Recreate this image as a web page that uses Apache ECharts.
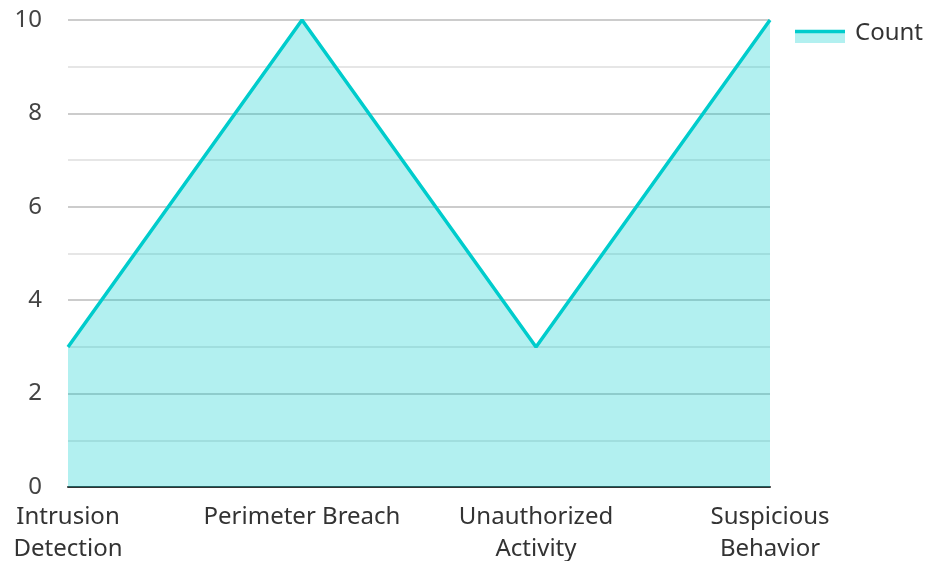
<!DOCTYPE html>
<html><head><meta charset="utf-8">
<script src="https://cdn.jsdelivr.net/npm/echarts@6/dist/echarts.min.js"></script>
<style>html,body{margin:0;padding:0;background:#fff;overflow:hidden}#c{width:927px;height:561px}</style>
</head><body><div id="c"></div>
<script>
const categories = ["Intrusion\nDetection", "Perimeter Breach", "Unauthorized\nActivity", "Suspicious\nBehavior"];
const counts = [3, 10, 3, 10];
const yTicks = [0, 2, 4, 6, 8, 10];
const seriesName = "Count";

const chart = echarts.init(document.getElementById('c'), null, {renderer: 'canvas'});
chart.setOption({
  animation: false,
  textStyle: {fontFamily: 'Noto Sans'},
  legend: {
    left: 790, top: 16, itemWidth: 50, itemHeight: 20, itemGap: 10,
    icon: 'path://M0,0 L50,0 L50,0 Z M0,10 L50,10 L50,20 L0,20 Z',
    itemStyle: {color: 'rgba(0,204,204,0.3)', borderWidth: 0},
    textStyle: {fontSize: 24, color: '#333', fontFamily: 'Noto Sans', padding: [0, 0, 0, 5]},
    data: [seriesName]
  },
  graphic: [{
    type: 'line', silent: true, z: 100,
    shape: {x1: 795, y1: 31.5, x2: 845, y2: 31.5},
    style: {stroke: '#00cccc', lineWidth: 3.5}
  }],
  grid: {left: 68, right: 157, top: 20, bottom: 74, containLabel: false, outerBoundsMode: 'none'},
  xAxis: {
    type: 'category', boundaryGap: false, data: categories,
    axisLine: {lineStyle: {color: '#333', width: 2}},
    axisTick: {show: false},
    axisLabel: {fontSize: 24, color: '#333', lineHeight: 32, margin: 14, interval: 0, fontFamily: 'Noto Sans'}
  },
  yAxis: {
    type: 'value', min: yTicks[0], max: yTicks[yTicks.length - 1], interval: 2,
    axisLine: {show: false}, axisTick: {show: false},
    axisLabel: {fontSize: 24, color: '#444', margin: 26, fontFamily: 'Noto Sans'},
    splitLine: {lineStyle: {color: '#cccccc', width: 2}},
    minorTick: {show: false, splitNumber: 2},
    minorSplitLine: {show: true, lineStyle: {color: '#e6e6e6', width: 2}}
  },
  series: [{
    name: seriesName, type: 'line', data: counts, symbol: 'none',
    lineStyle: {color: '#00cccc', width: 3.5},
    itemStyle: {color: '#00cccc'},
    areaStyle: {color: '#00cccc', opacity: 0.3},
    z: 3
  }]
});
</script></body></html>
